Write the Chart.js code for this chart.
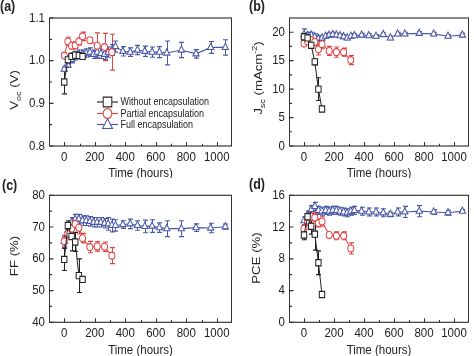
<!DOCTYPE html>
<html><head><meta charset="utf-8">
<script src="https://cdn.jsdelivr.net/npm/chart.js@4.4.1/dist/chart.umd.min.js"></script>
<style>
html,body{margin:0;padding:0;background:#fff;}
#wrap{position:relative;width:474px;height:356px;overflow:hidden;background:#fff;}
canvas{position:absolute;}
</style></head><body>
<div id="wrap">
<canvas id="ca" width="237" height="178" style="left:0;top:0;width:237px;height:178px"></canvas>
<canvas id="cb" width="237" height="178" style="left:237px;top:0;width:237px;height:178px"></canvas>
<canvas id="cc" width="237" height="178" style="left:0;top:178px;width:237px;height:178px"></canvas>
<canvas id="cd" width="237" height="178" style="left:237px;top:178px;width:237px;height:178px"></canvas>
</div>
<script>
// ---------- data ----------
const seriesNames = ['Without encapsulation', 'Partial encapsulation', 'Full encapsulation'];
const tNo = [0, 24, 48, 72, 96, 120];
const tPartial = [0, 24, 48, 72, 96, 120, 168, 216, 264, 312];
const tFull = [0, 24, 48, 72, 96, 120, 144, 168, 192, 216, 240, 264, 288, 312, 336, 384, 432, 480, 528, 576, 624, 672, 768, 864, 960, 1056];

const vocNo = [0.950, 1.002, 1.010, 1.013, 1.012, 1.010];
const vocNoErr = [0.028, 0.010, 0.008, 0.006, 0.006, 0.004];
const vocPartial = [1.012, 1.045, 1.035, 1.036, 1.045, 1.057, 1.048, 1.035, 1.032, 1.020];
const vocPartialErr = [0.003, 0.010, 0.008, 0.008, 0.008, 0.010, 0.006, 0.030, 0.032, 0.042];
const vocFull = [0.980, 0.990, 1.003, 1.012, 1.015, 1.015, 1.018, 1.020, 1.015, 1.020, 1.017, 1.015, 1.020, 1.025, 1.033, 1.022, 1.020, 1.025, 1.022, 1.020, 1.020, 1.018, 1.025, 1.016, 1.031, 1.031];
const vocFullErr = [0.005, 0.006, 0.008, 0.010, 0.010, 0.010, 0.010, 0.010, 0.010, 0.012, 0.012, 0.012, 0.012, 0.013, 0.013, 0.011, 0.010, 0.011, 0.012, 0.012, 0.013, 0.028, 0.018, 0.010, 0.014, 0.018];

const jscNo = [19.2, 19.0, 17.7, 14.8, 10.0, 6.5];
const jscNoErr = [0.6, 0.3, 0.4, 0.5, 2.0, 0.3];
const jscPartial = [18.0, 18.4, 18.6, 18.3, 17.0, 17.9, 16.7, 16.5, 16.5, 15.1];
const jscPartialErr = [0.3, 0.5, 0.5, 0.6, 1.0, 0.8, 0.8, 0.9, 0.7, 0.8];
const jscFull = [19.6, 19.4, 19.5, 19.2, 18.9, 19.0, 19.3, 19.5, 19.6, 19.5, 19.4, 19.2, 19.0, 19.3, 19.4, 19.5, 19.4, 19.3, 19.6, 19.0, 19.7, 19.7, 19.8, 19.7, 19.3, 19.5];
const jscFullErr = [1.0, 0.6, 0.5, 0.5, 0.5, 0.4, 0.4, 0.4, 0.4, 0.3, 0.3, 0.3, 0.3, 0.3, 0.3, 0.3, 0.3, 0.3, 0.3, 0.3, 0.3, 0.3, 0.3, 0.3, 0.3, 0.3];

const ffNo = [59.8, 70.5, 67.0, 65.3, 54.7, 53.5];
const ffNoErr = [3.5, 1.5, 4.5, 3.0, 5.3, 0.5];
const ffPartial = [65.5, 68.0, 69.5, 71.0, 69.8, 66.5, 63.7, 63.9, 63.8, 61.0];
const ffPartialErr = [1.5, 1.5, 1.5, 1.5, 2.0, 1.5, 1.8, 1.5, 1.5, 2.5];
const ffFull = [65.5, 69.0, 71.5, 72.5, 72.5, 72.0, 72.0, 71.8, 71.5, 71.5, 71.5, 71.2, 71.0, 70.5, 70.5, 70.8, 71.0, 70.5, 70.2, 70.3, 69.8, 69.5, 69.5, 69.8, 69.7, 70.1];
const ffFullErr = [2.0, 1.5, 1.5, 1.5, 1.5, 1.5, 1.5, 1.5, 1.5, 1.5, 1.5, 1.5, 2.0, 2.0, 1.8, 1.2, 1.5, 1.5, 2.0, 2.0, 1.5, 2.5, 2.5, 1.2, 1.5, 0.8];

const pceNo = [11.0, 13.3, 12.1, 11.1, 7.5, 3.5];
const pceNoErr = [0.6, 0.5, 1.0, 2.0, 1.5, 0.2];
const pcePartial = [11.8, 12.8, 13.3, 13.2, 12.5, 12.7, 11.0, 10.9, 10.9, 9.3];
const pcePartialErr = [0.5, 0.6, 0.5, 0.5, 0.5, 0.6, 0.3, 0.5, 0.5, 0.7];
const pceFull = [12.8, 13.5, 14.2, 14.6, 14.1, 14.0, 14.1, 14.0, 14.1, 14.1, 14.0, 13.9, 13.8, 14.0, 14.1, 14.0, 13.9, 13.9, 13.8, 13.6, 13.9, 13.9, 14.0, 13.9, 13.8, 14.0];
const pceFullErr = [0.5, 0.5, 0.5, 0.5, 0.5, 0.5, 0.5, 0.5, 0.5, 0.5, 0.5, 0.5, 0.5, 0.5, 0.5, 0.5, 0.5, 0.5, 0.5, 0.3, 0.5, 0.7, 0.7, 0.3, 0.3, 0.2];

const xTicks = [0, 200, 400, 600, 800, 1000];
const xMinor = [100, 300, 500, 700, 900];
const yTicksA = [0.8, 0.9, 1.0, 1.1];
const yTicksB = [0, 5, 10, 15, 20];
const yTicksC = [40, 50, 60, 70, 80];
const yTicksD = [0, 4, 8, 12, 16];

// ---------- styling ----------
const FONT = '"Liberation Sans", Arial, Helvetica, sans-serif';
const TXT = '#222';
const FS = 11.5;          // font size (logical px)
const K = 1.15;           // vertical stretch of the figure
const H = 178;            // canvas height (device px)
const colors = ['#222222', '#e24444', '#4a58a8'];
const styles = ['rect', 'circle', 'triangle'];
const radii = [3.8, 3, 3.6];

function drawMarker(ctx, style, x, y, r, color) {
  ctx.save();
  ctx.fillStyle = '#fff'; ctx.strokeStyle = color; ctx.lineWidth = 1;
  ctx.beginPath();
  if (style === 'rect') { ctx.rect(x - r, y - r, 2 * r, 2 * r); }
  else if (style === 'circle') { ctx.arc(x, y, r, 0, Math.PI * 2); }
  else { ctx.moveTo(x, y - r * 1.15); ctx.lineTo(x + r * 1.15, y + r * 0.8); ctx.lineTo(x - r * 1.15, y + r * 0.8); ctx.closePath(); }
  ctx.fill(); ctx.stroke();
  ctx.restore();
}

function drawRichV(ctx, parts, cx, cy, size) {
  ctx.save(); ctx.translate(cx, cy); ctx.rotate(-Math.PI / 2);
  let total = 0;
  const ms = parts.map(p => { const fs = p.s ? size * 0.68 : size; ctx.font = fs + 'px ' + FONT; const w = ctx.measureText(p.t).width; total += w; return { fs, w }; });
  let x = -total / 2;
  ctx.textBaseline = 'alphabetic'; ctx.fillStyle = TXT; ctx.textAlign = 'left';
  parts.forEach((p, i) => {
    ctx.font = ms[i].fs + 'px ' + FONT;
    const dy = p.s === 'sub' ? size * 0.25 : p.s === 'sup' ? -size * 0.42 : 0;
    ctx.fillText(p.t, x, size * 0.36 + dy);
    x += ms[i].w;
  });
  ctx.restore();
}

const deco = {
  id: 'deco',
  beforeDraw(chart) {
    chart.ctx.save();
    chart.ctx.scale(1, K);
  },
  beforeDatasetsDraw(chart) {
    const ctx = chart.ctx, xs = chart.scales.x, ys = chart.scales.y;
    chart.data.datasets.forEach(ds => {
      if (!ds.errors) return;
      ctx.save(); ctx.strokeStyle = ds.borderColor; ctx.lineWidth = 1;
      ds.data.forEach((p, i) => {
        const e = ds.errors[i];
        const x = Math.round(xs.getPixelForValue(p.x)) + 0.5;
        const y1 = ys.getPixelForValue(p.y - e), y2 = ys.getPixelForValue(p.y + e);
        ctx.beginPath();
        ctx.moveTo(x, y1); ctx.lineTo(x, y2);
        ctx.moveTo(x - 2.5, y1); ctx.lineTo(x + 2.5, y1);
        ctx.moveTo(x - 2.5, y2); ctx.lineTo(x + 2.5, y2);
        ctx.stroke();
      });
      ctx.restore();
    });
  },
  afterDraw(chart, args, o) {
    const ctx = chart.ctx, a = chart.chartArea, xs = chart.scales.x, ys = chart.scales.y;
    ctx.save();
    ctx.strokeStyle = '#333'; ctx.lineWidth = 1;
    const L = Math.round(a.left) + 0.5, R = Math.round(a.right) - 0.5, T = a.top, B = a.bottom;
    ctx.strokeRect(L, T, R - L, B - T);
    ctx.beginPath();
    o.yTicks.forEach(v => { const y = ys.getPixelForValue(v); ctx.moveTo(L, y); ctx.lineTo(L + 4, y); });
    o.yMinor.forEach(v => { const y = ys.getPixelForValue(v); ctx.moveTo(L, y); ctx.lineTo(L + 2.5, y); });
    xTicks.forEach(v => { const x = Math.round(xs.getPixelForValue(v)) + 0.5; ctx.moveTo(x, B); ctx.lineTo(x, B - 3.5); });
    xMinor.forEach(v => { const x = Math.round(xs.getPixelForValue(v)) + 0.5; ctx.moveTo(x, B); ctx.lineTo(x, B - 2); });
    ctx.stroke();
    // titles
    ctx.fillStyle = TXT; ctx.textAlign = 'center'; ctx.textBaseline = 'middle';
    ctx.font = FS + 'px ' + FONT;
    ctx.fillText('Time (hours)', (a.left + a.right) / 2, o.xtY / K);
    drawRichV(ctx, o.ytitle, o.ytX, o.ytY / K, FS);
    ctx.font = 'bold 12.5px ' + FONT; ctx.textAlign = 'left'; ctx.textBaseline = 'middle';
    ctx.fillText(o.label, o.labelX, o.labelY / K);
    if (o.legend) {
      const rows = [102, 113.5, 124.5];
      rows.forEach((yd, i) => {
        const y = yd / K;
        ctx.strokeStyle = colors[i]; ctx.lineWidth = 1;
        ctx.beginPath(); ctx.moveTo(97, y); ctx.lineTo(118, y); ctx.stroke();
        drawMarker(ctx, styles[i], 107.5, y, 4.3, colors[i]);
        ctx.fillStyle = TXT; ctx.font = '9px ' + FONT; ctx.textAlign = 'left'; ctx.textBaseline = 'middle';
        ctx.fillText(seriesNames[i], 120.5, y + 0.5);
      });
    }
    ctx.restore();
    ctx.restore(); // undo vertical stretch
  }
};

function mk(ts, vs, es, i) {
  return {
    label: seriesNames[i],
    data: ts.map((t, k) => ({ x: t, y: vs[k] })),
    errors: es,
    borderColor: colors[i], borderWidth: 1,
    pointStyle: styles[i], pointRadius: radii[i], pointBorderWidth: 1,
    pointBackgroundColor: '#fff', pointBorderColor: colors[i],
    tension: 0, fill: false
  };
}

function makePanel(id, p) {
  const ctx = document.getElementById(id);
  new Chart(ctx, {
    type: 'line',
    data: { datasets: [mk(tNo, p.s[0], p.e[0], 0), mk(tPartial, p.s[1], p.e[1], 1), mk(tFull, p.s[2], p.e[2], 2)] },
    options: {
      responsive: false, animation: false, events: [],
      layout: { padding: { left: 0, top: p.top / K, right: p.padR, bottom: H - H / K } },
      plugins: { legend: { display: false }, tooltip: { enabled: false },
        deco: { yTicks: p.yTicks, yMinor: p.yMinor, ytitle: p.ytitle, ytX: p.ytX, ytY: p.ytY, xtY: p.xtY, label: p.label, labelX: p.labelX, labelY: p.labelY, legend: p.legend } },
      scales: {
        x: { type: 'linear', min: -100, max: 1100,
          grid: { display: false, drawTicks: false }, border: { display: false },
          ticks: { color: TXT, font: { family: FONT, size: FS }, padding: 3, maxRotation: 0, autoSkip: false,
            callback: v => String(v) },
          afterBuildTicks: s => { s.ticks = xTicks.map(v => ({ value: v })); },
          afterFit: s => { s.height = (H - p.bottom) / K; } },
        y: { type: 'linear', min: p.ymin, max: p.ymax,
          grid: { display: false, drawTicks: false }, border: { display: false },
          ticks: { color: TXT, font: { family: FONT, size: FS }, padding: 4,
            callback: v => v.toFixed(p.dec) },
          afterBuildTicks: s => { s.ticks = p.yTicks.map(v => ({ value: v })); },
          afterFit: s => { s.width = p.yW; } }
      }
    },
    plugins: [deco]
  });
}

makePanel('ca', { s: [vocNo, vocPartial, vocFull], e: [vocNoErr, vocPartialErr, vocFullErr],
  ymin: 0.8, ymax: 1.1, yTicks: yTicksA, yMinor: [0.85, 0.95, 1.05], dec: 1,
  yW: 49, padR: 5, top: 18, bottom: 146, xtY: 173,
  ytitle: [{ t: 'V' }, { t: 'oc', s: 'sub' }, { t: ' (V)' }], ytX: 14, ytY: 90,
  label: '(a)', labelX: 0, labelY: 7, legend: true });
makePanel('cb', { s: [jscNo, jscPartial, jscFull], e: [jscNoErr, jscPartialErr, jscFullErr],
  ymin: 0, ymax: 22.5, yTicks: yTicksB, yMinor: [2.5, 7.5, 12.5, 17.5], dec: 0,
  yW: 52, padR: 2, top: 18, bottom: 146, xtY: 173,
  ytitle: [{ t: 'J' }, { t: 'sc', s: 'sub' }, { t: ' (mAcm' }, { t: '-2', s: 'sup' }, { t: ')' }], ytX: 21, ytY: 78,
  label: '(b)', labelX: 12, labelY: 7, legend: false });
makePanel('cc', { s: [ffNo, ffPartial, ffFull], e: [ffNoErr, ffPartialErr, ffFullErr],
  ymin: 40, ymax: 80, yTicks: yTicksC, yMinor: [45, 55, 65, 75], dec: 0,
  yW: 49, padR: 5, top: 17.3, bottom: 144.3, xtY: 172,
  ytitle: [{ t: 'FF (%)' }], ytX: 14, ytY: 78,
  label: '(c)', labelX: 2, labelY: 8, legend: false });
makePanel('cd', { s: [pceNo, pcePartial, pceFull], e: [pceNoErr, pcePartialErr, pceFullErr],
  ymin: 0, ymax: 16, yTicks: yTicksD, yMinor: [2, 6, 10, 14], dec: 0,
  yW: 52, padR: 2, top: 17.3, bottom: 144.3, xtY: 172,
  ytitle: [{ t: 'PCE (%)' }], ytX: 19, ytY: 80,
  label: '(d)', labelX: 12, labelY: 7, legend: false });
</script>
</body></html>
